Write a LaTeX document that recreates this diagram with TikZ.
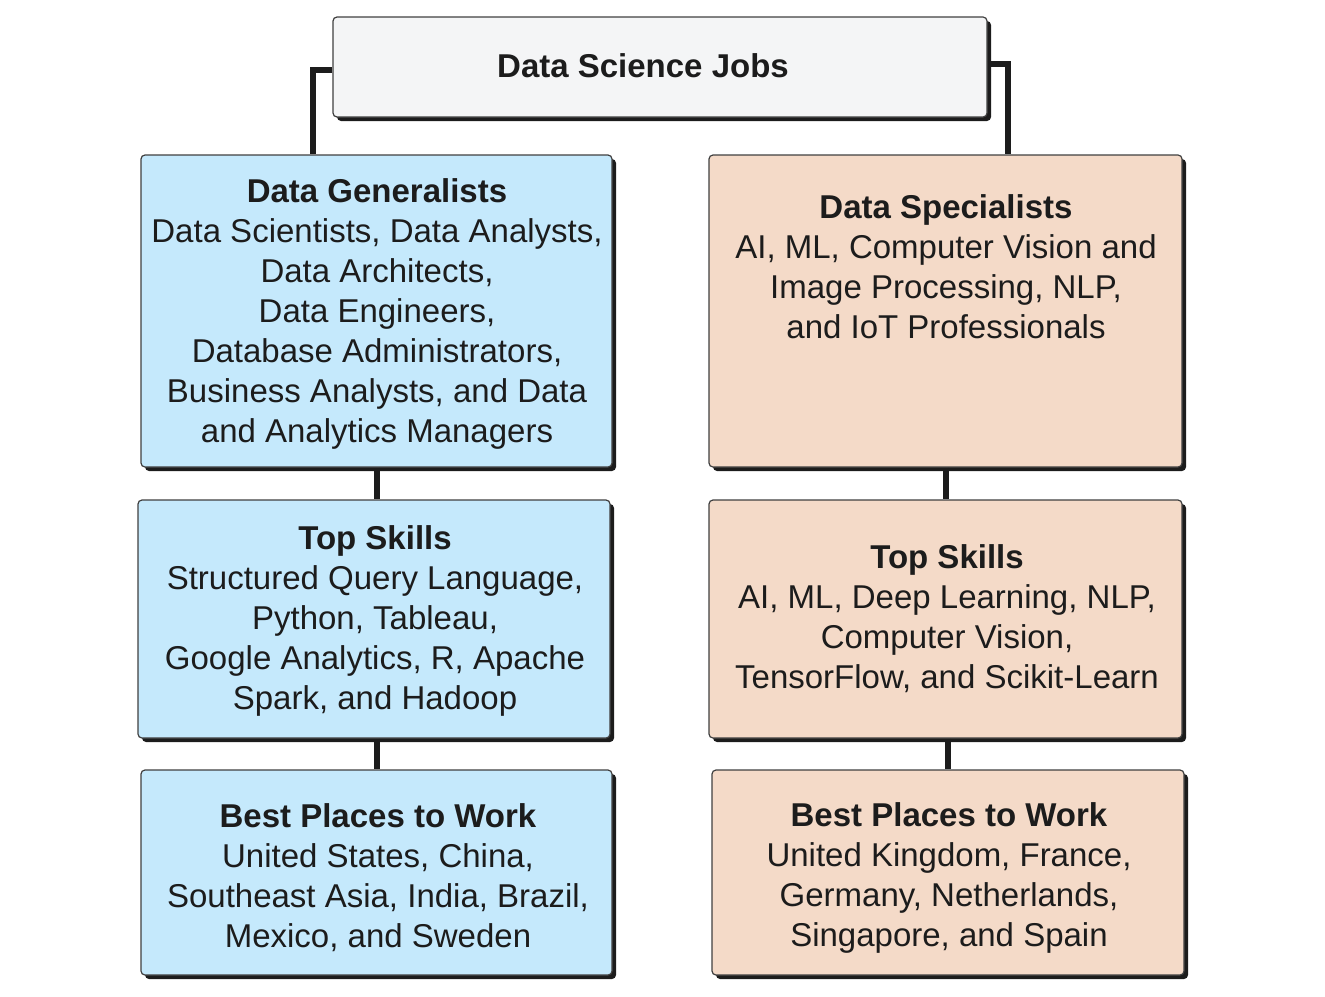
\documentclass[tikz,border=0pt]{standalone}
\usepackage{fontspec}
\setmainfont{Liberation Sans}
\usetikzlibrary{positioning, shadows}
\definecolor{genblue}{HTML}{C5E9FC}
\definecolor{specpeach}{HTML}{F4DAC8}
\definecolor{topgray}{HTML}{F4F5F6}
\definecolor{inkline}{HTML}{1C1C1C}
\tikzset{
    %Define style for texts
    boxtext/.style={
           text=inkline,
           font=\fontsize{16.5}{20}\selectfont,
           inner sep=0pt,
           align=center},
    %Define style for boxes
    jobbox/.style={
           boxtext,
           rectangle,
           rounded corners=2pt,
           draw=black!75, line width=0.6pt,
           drop shadow={shadow xshift=2pt, shadow yshift=-2pt, fill=inkline, opacity=1}},
    genbox/.style={jobbox, fill=genblue},
    specbox/.style={jobbox, fill=specpeach},
    % Define connector style
    link/.style={
           draw=inkline,
           line width=3pt}
}
\begin{document}
\begin{tikzpicture}[x=0.5pt, y=-0.5pt]
    \useasboundingbox (0,0) rectangle (1325,996);

    % TOP
    \node[jobbox, fill=topgray, minimum width=327pt, minimum height=50pt] (jobs) at (660,67) {};
    \node[boxtext] (jobstext) at (643,66) {\textbf{Data Science Jobs}};

    % GENERALISTS
    \node[genbox, minimum width=235.5pt, minimum height=156pt] (gen) at (376.5,311) {};
    \node[boxtext] (gentext) at (377,314)
        {\textbf{Data Generalists}\\Data Scientists, Data Analysts,\\Data Architects,\\Data Engineers,\\Database Administrators,\\Business Analysts, and Data\\and Analytics Managers};
    \node[genbox, minimum width=236pt, minimum height=119pt] (lskills) at (374,619) {};
    \node[boxtext] (lskillstext) at (375,621)
        {\textbf{Top Skills}\\Structured Query Language,\\Python, Tableau,\\Google Analytics, R, Apache\\Spark, and Hadoop};
    \node[genbox, minimum width=235.5pt, minimum height=102.5pt] (lplaces) at (376.5,872.5) {};
    \node[boxtext] (lplacestext) at (378,878)
        {\textbf{Best Places to Work}\\United States, China,\\Southeast Asia, India, Brazil,\\Mexico, and Sweden};

    % SPECIALISTS
    \node[specbox, minimum width=236.5pt, minimum height=156pt] (spec) at (945.5,311) {};
    \node[boxtext] (spectext) at (946,267)
        {\textbf{Data Specialists}\\AI, ML, Computer Vision and\\Image Processing, NLP,\\and IoT Professionals};
    \node[specbox, minimum width=236.5pt, minimum height=119pt] (rskills) at (945.5,619) {};
    \node[boxtext] (rskillstext) at (947,619)
        {\textbf{Top Skills}\\AI, ML, Deep Learning, NLP,\\Computer Vision,\\TensorFlow, and Scikit-Learn};
    \node[specbox, minimum width=236pt, minimum height=102.5pt] (rplaces) at (948,872.5) {};
    \node[boxtext] (rplacestext) at (949,878)
        {\textbf{Best Places to Work}\\United Kingdom, France,\\Germany, Netherlands,\\Singapore, and Spain};

    % LINKS
    \coordinate (lknee) at (312.5,70);
    \coordinate (rknee) at (1008,64);
    \draw[link] (lknee -| jobs.west) -- (lknee) -- (lknee |- gen.north);
    \draw[link] (rknee -| jobs.east) -- (rknee) -- (rknee |- spec.north);
    \draw[link] (gen.south) -- (gen.south |- lskills.north);
    \draw[link] (lplaces.north |- lskills.south) -- (lplaces.north);
    \draw[link] (spec.south) -- (spec.south |- rskills.north);
    \draw[link] (rplaces.north |- rskills.south) -- (rplaces.north);
\end{tikzpicture}
\end{document}
